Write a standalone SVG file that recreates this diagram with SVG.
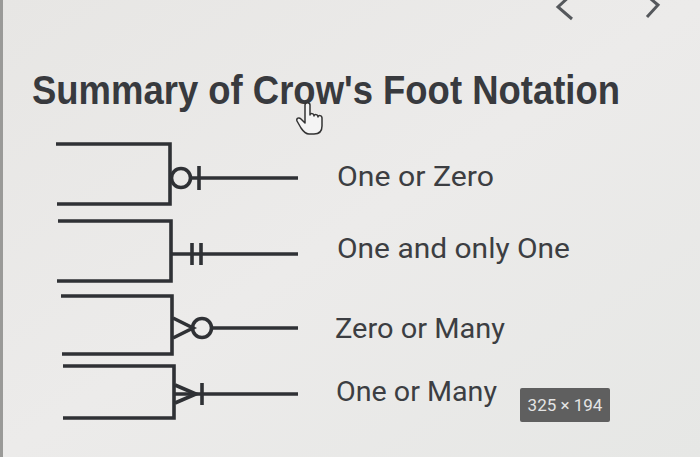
<svg xmlns="http://www.w3.org/2000/svg" width="700" height="457" viewBox="0 0 700 457">
  <defs>
    <style>
      .ln { fill: none; stroke: #2f3135; stroke-width: 3.6; stroke-linecap: butt; stroke-linejoin: miter; }
      .lbl { font-family: Roboto, "Open Sans", "Liberation Sans", sans-serif; font-size: 28px; fill: #3c3e42; }
      .title { font-family: "Liberation Sans", Arial, sans-serif; font-weight: bold; font-size: 40px; fill: #383a3e; }
      .chev { fill: none; stroke: #55585c; stroke-width: 3; }
    </style>
    <linearGradient id="bg" x1="0" y1="0" x2="1" y2="1">
      <stop offset="0" stop-color="#e7e6e4"/>
      <stop offset="0.5" stop-color="#ecebea"/>
      <stop offset="1" stop-color="#e6e7e5"/>
    </linearGradient>
  </defs>

  <rect x="0" y="0" width="700" height="457" fill="url(#bg)"/>
  <rect x="0" y="0" width="3" height="457" fill="#9a9a98"/>

  <!-- carousel chevrons (partially visible) -->
  <polyline class="chev" points="572,-6 558,7 572,19"/>
  <polyline class="chev" points="645,-6 658,5 647,17"/>

  <text class="title" x="32" y="104" textLength="588" lengthAdjust="spacingAndGlyphs">Summary of Crow's Foot Notation</text>

  <!-- entity nodes with labels -->
  <g id="node-one-or-zero">
    <path class="ln" d="M56,144 H170 V204 H57"/>
    <text class="lbl" x="337" y="186" textLength="157" lengthAdjust="spacingAndGlyphs">One or Zero</text>
  </g>
  <g id="node-one-and-only-one">
    <path class="ln" d="M58,221 H171 V281 H57"/>
    <text class="lbl" x="337" y="258" textLength="233" lengthAdjust="spacingAndGlyphs">One and only One</text>
  </g>
  <g id="node-zero-or-many">
    <path class="ln" d="M61,296 H172 V354 H62"/>
    <text class="lbl" x="335" y="338" textLength="170" lengthAdjust="spacingAndGlyphs">Zero or Many</text>
  </g>
  <g id="node-one-or-many">
    <path class="ln" d="M63,366 H174 V418 H63"/>
    <text class="lbl" x="336" y="401" textLength="161" lengthAdjust="spacingAndGlyphs">One or Many</text>
  </g>

  <!-- connectors with cardinality symbols -->
  <g id="connectors">
    <g id="conn-one-or-zero">
      <circle class="ln" cx="181" cy="178" r="9.5"/>
      <line class="ln" x1="199" y1="166" x2="199" y2="190"/>
      <line class="ln" x1="190.5" y1="178" x2="298" y2="178"/>
    </g>
    <g id="conn-one-and-only-one">
      <line class="ln" x1="171" y1="254" x2="298" y2="254"/>
      <line class="ln" x1="192" y1="243" x2="192" y2="265"/>
      <line class="ln" x1="201" y1="243" x2="201" y2="265"/>
    </g>
    <g id="conn-zero-or-many">
      <polyline class="ln" points="173,318 193,328 173,338"/>
      <circle class="ln" cx="202" cy="328" r="9.5"/>
      <line class="ln" x1="211.5" y1="328" x2="298" y2="328"/>
    </g>
    <g id="conn-one-or-many">
      <polyline class="ln" points="175,385 196,394 175,403"/>
      <line class="ln" x1="175" y1="394" x2="298" y2="394"/>
      <line class="ln" x1="202" y1="383" x2="202" y2="405"/>
    </g>
  </g>

  <!-- image size badge -->
  <rect x="520" y="388" width="90" height="34" rx="2" fill="#5f5f5f"/>
  <text x="565" y="411" text-anchor="middle" font-family="Roboto, 'Liberation Sans', sans-serif" font-size="17" fill="#e4e4e4">325 × 194</text>

  <!-- mouse pointer -->
  <path transform="translate(1,-3)" d="M304,108 C304,105 309,105 309,108 L309,118 C309,116 313,116 313,119 C313,117 317,117 317,120 C317,118 321,118 321,121 L321,129 C321,134 318,137 313,137 L308,137 C304,137 302,134 300,131 L296,124 C295,121 298,120 300,122 L304,126 Z" fill="#f4f4f4" stroke="#333" stroke-width="1.5" stroke-linejoin="round"/>
</svg>
